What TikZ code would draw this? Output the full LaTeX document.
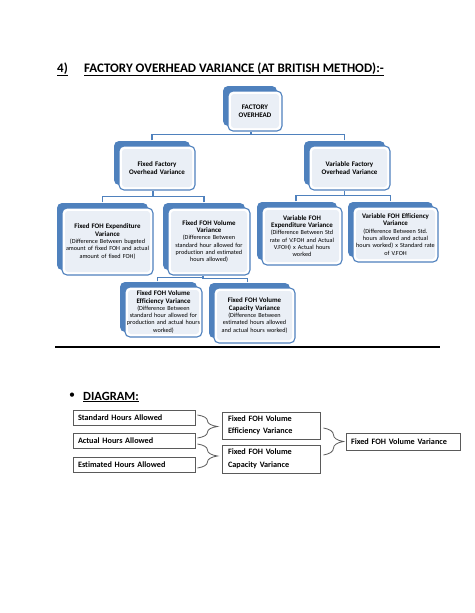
\documentclass[tikz,border=0pt]{standalone}
\usepackage{fontspec}
\setmainfont{Carlito}[Ligatures=NoCommon]
\usetikzlibrary{shadows,decorations.pathreplacing}
\definecolor{myblue}{RGB}{79,129,189}
\definecolor{innerfill}{RGB}{234,239,246}
\definecolor{boxgray}{RGB}{90,90,90}
\tikzset{
  hbox/.style={rounded corners=5pt, draw=myblue, line width=1.1pt, fill=white,
    align=center, inner sep=2pt,
    general shadow={fill=myblue, shadow xshift=-5pt, shadow yshift=5pt},
    path picture={\fill[innerfill, rounded corners=3pt]
      ([shift={(3pt,3pt)}]path picture bounding box.south west) rectangle
      ([shift={(-3pt,-3pt)}]path picture bounding box.north east);}},
  lvltwo/.style={hbox, font=\fontsize{7}{8}\selectfont\bfseries},
  lvlthree/.style={hbox, font=\fontsize{6.2}{7.3}\selectfont},
  conn/.style={draw=myblue, line width=1.2pt},
  dbox/.style={draw=boxgray, line width=0.9pt, fill=white, align=left, inner sep=0pt,
    font=\fontsize{8.2}{12.5}\selectfont\bfseries},
  brc/.style={draw=boxgray, line width=0.8pt, decorate, decoration={brace, amplitude=#1}},
}
\newcommand\ttlx[1]{{\fontsize{6.9}{7.3}\selectfont\bfseries #1}}
\begin{document}
\begin{tikzpicture}[x=1pt,y=-1pt]
\useasboundingbox[fill=white] (0,0) rectangle (474,613);
% title
\node[anchor=base west, inner sep=0pt, font=\fontsize{13}{15}\selectfont\bfseries] (t4) at (57,72) {\underline{4)}};
\node[anchor=base west, inner sep=0pt, font=\fontsize{13}{15}\selectfont\bfseries] (title) at (84,72) {\underline{FACTORY OVERHEAD VARIANCE (AT BRITISH METHOD):-}};
% hierarchy
\node[lvltwo, minimum width=54pt, minimum height=40pt, text width=48pt] (fo) at (255,111) {FACTORY\\OVERHEAD};
\node[lvltwo, minimum width=76pt, minimum height=44pt, text width=70pt] (fixed) at (157,168) {Fixed Factory\\Overhead Variance};
\node[lvltwo, minimum width=81pt, minimum height=44pt, text width=75pt] (var) at (349.5,168) {Variable Factory\\Overhead Variance};
\node[lvlthree, minimum width=91pt, minimum height=67pt, text width=87pt] (fexp) at (107.5,241.5) {\ttlx{Fixed FOH Expenditure}\\\ttlx{Variance}\\(Difference Between bugeted\\amount of fixed FOH and actual\\amount of fixed FOH)};
\node[lvlthree, minimum width=82pt, minimum height=67pt, text width=78pt] (fvol) at (209,241.5) {\ttlx{Fixed FOH Volume}\\\ttlx{Variance}\\(Difference Between\\standard hour allowed for\\production and estimated\\hours allowed)};
\node[lvlthree, minimum width=80pt, minimum height=58pt, text width=76pt] (vexp) at (302,236) {\ttlx{Variable FOH}\\\ttlx{Expenditure Variance}\\(Difference Between Std\\rate of V.FOH and Actual\\V.FOH) x Actual hours\\worked};
\node[lvlthree, minimum width=85pt, minimum height=55pt, text width=81pt] (veff) at (395.5,234.5) {\ttlx{Variable FOH Efficiency}\\\ttlx{Variance}\\(Difference Between Std.\\hours allowed and actual\\hours worked) x Standard rate\\of V.FOH};
\node[lvlthree, inner sep=0.5pt, minimum width=77pt, minimum height=50pt, text width=76pt] (feff) at (163.5,312) {\ttlx{Fixed FOH Volume}\\\ttlx{Efficiency Variance}\\(Difference Between\\standard hour allowed for\\production and actual hours\\worked)};
\node[lvlthree, minimum width=81pt, minimum height=55pt, text width=77pt] (fcap) at (254.5,315.5) {\ttlx{Fixed FOH Volume}\\\ttlx{Capacity Variance}\\(Difference Between\\estimated hours allowed\\and actual hours worked)};
% connectors
\draw[conn] ([xshift=-5pt,yshift=5pt]fixed.north) -- ++(0,-6) -| ([xshift=-4pt]fo.south);
\draw[conn] ([xshift=-5pt,yshift=5pt]var.north) -- ++(0,-6) -| ([xshift=-4pt]fo.south);
\draw[conn] ([xshift=-5pt,yshift=5pt]fexp.north) -- ++(0,-6) -| ([xshift=-4pt]fixed.south);
\draw[conn] ([xshift=-5pt,yshift=5pt]fvol.north) -- ++(0,-6) -| ([xshift=-4pt]fixed.south);
\draw[conn] ([xshift=-6pt,yshift=5pt]vexp.north) -- ++(0,-6) -| ([xshift=-5pt]var.south);
\draw[conn] ([xshift=-5pt,yshift=5pt]veff.north) -- ++(0,-6) -| ([xshift=-5pt]var.south);
\draw[conn] ([xshift=-6pt,yshift=5pt]feff.north) -- ++(0,-4) -| ([xshift=-6pt]fvol.south);
\draw[conn] ([xshift=-7pt,yshift=5pt]fcap.north) -- ++(0,-4) -| ([xshift=-6pt]fvol.south);
% separator
\coordinate (sepL) at (55,347);
\coordinate (sepR) at (440,347);
\draw[line width=1.5pt] (sepL) -- (sepR);
% bullet heading
\node[inner sep=0pt, font=\fontsize{12}{14}\selectfont] (bul) at (72,396) {\textbullet};
\node[anchor=base west, inner sep=0pt, font=\fontsize{12.5}{15}\selectfont\bfseries] (diag) at (83,400) {\underline{DIAGRAM:}};
% bottom diagram
\node[dbox, minimum width=122pt, minimum height=15pt, text width=112pt] (std) at (134,417.5) {Standard Hours Allowed};
\node[dbox, minimum width=122pt, minimum height=15pt, text width=112pt] (act) at (134,440.5) {Actual Hours Allowed};
\node[dbox, minimum width=122pt, minimum height=15pt, text width=112pt] (est) at (134,464.5) {Estimated Hours Allowed};
\node[dbox, minimum width=98pt, minimum height=27pt, text width=86pt] (beff) at (271,425.5) {Fixed FOH Volume\\Efficiency Variance};
\node[dbox, minimum width=98pt, minimum height=28pt, text width=86pt] (bcap) at (271,459) {Fixed FOH Volume\\Capacity Variance};
\node[dbox, minimum width=114pt, minimum height=17pt, text width=104pt] (bvar) at (403,441.5) {Fixed FOH Volume Variance};
% braces
\draw[brc=20pt] ([shift={(2,-2.5)}]std.east) -- ([shift={(2,-2.5)}]act.east);
\draw[brc=20pt] ([shift={(2,3.5)}]act.east) -- ([shift={(2,3.5)}]est.east);
\draw[brc=20pt] ([shift={(3,2.5)}]beff.east) -- ([shift={(3,-4)}]bcap.east);
\end{tikzpicture}
\end{document}
